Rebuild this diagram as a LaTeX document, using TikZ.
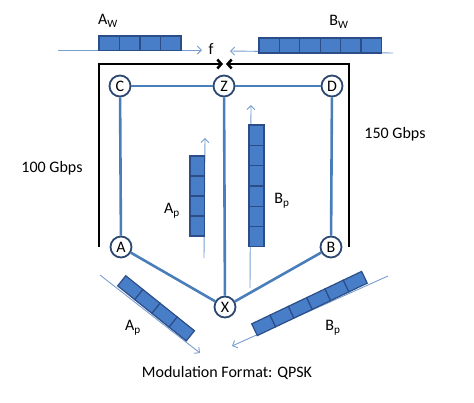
\documentclass[tikz,border=0pt]{standalone}
\usepackage{fontspec}
\setmainfont{Carlito}
\usetikzlibrary{arrows.meta}
\definecolor{linkblue}{RGB}{74,126,187}
\definecolor{nodenavy}{RGB}{44,72,112}
\definecolor{flowblue}{RGB}{120,158,208}
\definecolor{cellblue}{RGB}{72,126,200}
\definecolor{celledge}{RGB}{44,78,136}

\begin{document}
\begin{tikzpicture}[x=1pt,y=-1pt]
    \tikzset{vertex/.style = {shape=circle, draw=nodenavy, line width=1.8pt, fill=white, minimum size=21pt, inner sep=0pt, font=\fontsize{16}{18}\selectfont}}
    \tikzset{link/.style = {draw=linkblue, line width=2.6pt}}
    \tikzset{rate/.style = {draw=black, line width=2.5pt, -{Straight Barb[length=4pt,width=9pt]}}}
    \tikzset{flow/.style = {draw=flowblue, line width=0.9pt, -{Straight Barb[length=4pt,width=8pt]}}}
    \tikzset{cell/.style = {draw=celledge, fill=cellblue, line width=1.2pt}}
    \tikzset{lbl/.style = {font=\fontsize{16}{18}\selectfont, inner sep=0pt}}

    \useasboundingbox (0,0) rectangle (474,402);

    % vertices
    \node[vertex] (c) at (120,86) {C};
    \node[vertex] (z) at (224,86) {Z};
    \node[vertex] (d) at (332,86) {D};
    \node[vertex] (a) at (121,247) {A};
    \node[vertex] (b) at (331,247) {B};
    \node[vertex] (x) at (225,307) {X};

    % links
    \draw[link] (c) to (z);
    \draw[link] (z) to (d);
    \draw[link] (c) to (a);
    \draw[link] (d) to (b);
    \draw[link] (a) to (x);
    \draw[link] (b) to (x);
    \draw[link] (z) to (x);

    % capacity brackets
    \coordinate (l0) at (99,247);
    \coordinate (l1) at (99,64);
    \coordinate (f0) at (223,64);
    \coordinate (r0) at (349,247);
    \coordinate (r1) at (349,64);
    \coordinate (f1) at (226,64);
    \draw[rate] (l0) -- (l1) -- (f0);
    \draw[rate] (r0) -- (r1) -- (f1);

    % flow directions
    \coordinate (aw0) at (58,50);
    \coordinate (aw1) at (202,50);
    \coordinate (bw0) at (393,53);
    \coordinate (bw1) at (230,51);
    \coordinate (ap0) at (204,258);
    \coordinate (ap1) at (205,138);
    \coordinate (bp0) at (250,288);
    \coordinate (bp1) at (251,105);
    \coordinate (aq0) at (100,275);
    \coordinate (aq1) at (200,353);
    \coordinate (bq0) at (388,276);
    \coordinate (bq1) at (232,346);
    \draw[flow] (aw0) to (aw1);
    \draw[flow] (bw0) to (bw1);
    \draw[flow] (ap0) to (ap1);
    \draw[flow] (bp0) to (bp1);
    \draw[flow] (aq0) to (aq1);
    \draw[flow] (bq0) to (bq1);

    % slot blocks
    \begin{scope}[shift={(99,36)}]
        \foreach \i in {0,...,3} \draw[cell] (\i*20.5,0) rectangle ++(20.5,14.5);
    \end{scope}
    \begin{scope}[shift={(259,38)}]
        \foreach \i in {0,...,5} \draw[cell] (\i*20.4,0) rectangle ++(20.4,15);
    \end{scope}
    \begin{scope}[shift={(190,156)}]
        \foreach \i in {0,...,3} \draw[cell] (0,\i*20) rectangle ++(14.5,20);
    \end{scope}
    \begin{scope}[shift={(249,125)}]
        \foreach \i in {0,...,5} \draw[cell] (0,\i*20.3) rectangle ++(15,20.3);
    \end{scope}
    \begin{scope}[shift={(121.7,280.8)}, rotate=-38.7]
        \foreach \i in {0,...,3} \draw[cell] (\i*22,-6.5) rectangle ++(22,13);
    \end{scope}
    \begin{scope}[shift={(254.5,329.7)}, rotate=25.5]
        \foreach \i in {0,...,5} \draw[cell] (\i*20.3,-6.5) rectangle ++(20.3,13);
    \end{scope}

    % labels
    \node[lbl] (fl) at (211,49) {f};
    \node[lbl] (awl) at (108,21) {A\textsubscript{W}};
    \node[lbl] (bwl) at (339,22) {B\textsubscript{W}};
    \node[lbl] (apl) at (172,211) {A\textsubscript{p}};
    \node[lbl] (bpl) at (282,201) {B\textsubscript{p}};
    \node[lbl] (aql) at (133,328) {A\textsubscript{p}};
    \node[lbl] (bql) at (333,328) {B\textsubscript{p}};
    \node[lbl] (lo) at (52,168) {100 Gbps};
    \node[lbl] (hi) at (395,134) {150 Gbps};
    \node[lbl] (mod) at (227,373) {Modulation Format: QPSK};
\end{tikzpicture}
\end{document}
